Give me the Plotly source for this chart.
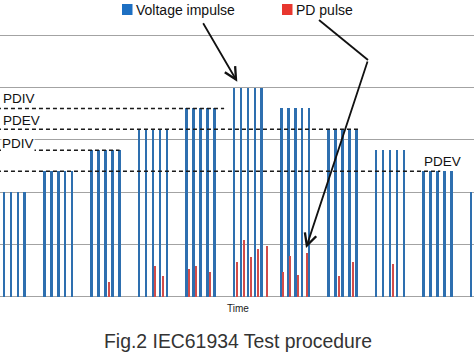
import plotly.graph_objects as go

W, H = 474, 355

# ---- data ----
# voltage impulse groups (5 impulses each) : start time and peak level
group_start = [0.0, 6.8, 13.6, 20.4, 27.2, 34.0, 40.8, 47.6, 54.4, 61.2, 68.0]
group_level = [2.0, 2.4, 2.8, 3.2, 3.6, 4.0, 3.6, 3.2, 2.8, 2.4, 2.0]
impulse_offsets = [0, 1, 2, 3, 4]

# PD pulses
pd_time = [16.08, 22.73, 23.83, 27.52, 28.52, 30.62, 34.45, 35.41, 36.46, 37.46,
           38.71, 41.09, 42.08, 43.17, 44.45, 49.04, 51.13, 56.87]
pd_amp = [0.29, 0.59, 0.40, 0.53, 0.59, 0.47, 0.67, 1.08, 0.75, 0.91,
          0.96, 0.47, 0.78, 0.41, 0.83, 0.39, 0.67, 0.62]

# reference (dashed) levels
ref_level = [3.6, 3.2, 2.8, 2.4]
ref_end = [32.6, 52.2, 17.6, 63.6]
ref_label = ["PDIV", "PDEV", "PDIV", "PDEV"]

legend_names = ["Voltage impulse", "PD pulse"]
grid_vals = [0, 1, 2, 3, 4, 5]
caption = "Fig.2 IEC61934 Test procedure"
x_title = "Time"

BLUE = "#2e6faf"
RED = "#d24c4a"
FONT = "Liberation Sans, Arial, sans-serif"

imp_x, imp_y = [], []
for s, lv in zip(group_start, group_level):
    for k in impulse_offsets:
        imp_x.append(s + k)
        imp_y.append(lv)

fig = go.Figure()
fig.add_trace(go.Bar(x=imp_x, y=imp_y, width=0.37, marker=dict(color=BLUE, line=dict(width=0)),
                     name=legend_names[0], showlegend=False))
fig.add_trace(go.Bar(x=pd_time, y=pd_amp, width=0.3, marker=dict(color=RED, line=dict(width=0)),
                     name=legend_names[1], showlegend=False))

PX_PER_T = 6.97
X0 = 0.445
Y0_PX, PX_PER_V = 296.7, 52.3

def px(x):
    return x / W

def py(y):
    return 1 - y / H

shapes = []
for lv, e in zip(ref_level, ref_end):
    shapes.append(dict(type="line", xref="x", yref="y", x0=-2, x1=e, y0=lv, y1=lv,
                       line=dict(color="#1a1a1a", width=1.5, dash="4px,3px"), layer="above"))
# legend squares
shapes.append(dict(type="rect", xref="paper", yref="paper", x0=px(122), x1=px(132.5),
                   y0=py(15), y1=py(4), fillcolor="#1d6fc2", line=dict(width=0)))
shapes.append(dict(type="rect", xref="paper", yref="paper", x0=px(282), x1=px(292.5),
                   y0=py(15), y1=py(4), fillcolor="#e8362e", line=dict(width=0)))
# first segment of the PD pulse pointer
shapes.append(dict(type="line", xref="paper", yref="paper", x0=px(319), y0=py(20), x1=px(368), y1=py(60),
                   line=dict(color="#111111", width=1.8)))

ann = []
ann.append(dict(xref="paper", yref="paper", x=px(133.5), y=py(10), xanchor="left", yanchor="middle",
                text=legend_names[0], showarrow=False, font=dict(family=FONT, size=14, color="#111")))
ann.append(dict(xref="paper", yref="paper", x=px(293.5), y=py(10), xanchor="left", yanchor="middle",
                text=legend_names[1], showarrow=False, font=dict(family=FONT, size=14, color="#111")))
# level labels
label_x = [1.5, 1.5, 0.5, 423]
label_shift = [9.6, 8.5, 6.9, 9.5]
label_bg = ["rgba(0,0,0,0)", "rgba(0,0,0,0)", "white", "rgba(0,0,0,0)"]
for lv, lab, lx, sh, bg in zip(ref_level, ref_label, label_x, label_shift, label_bg):
    ann.append(dict(xref="paper", yref="y", x=px(lx), y=lv, yshift=sh, xanchor="left", yanchor="middle",
                    text=lab, showarrow=False, bgcolor=bg, borderpad=0,
                    font=dict(family=FONT, size=13.5, color="#111")))
# arrows
ann.append(dict(xref="x", yref="y", x=34.49, y=4.11, ax=-35, ay=-60, text="", showarrow=True,
                arrowhead=5, arrowsize=1.3, arrowwidth=1.8, arrowcolor="#111111", standoff=0))
ann.append(dict(xref="x", yref="y", x=44.35, y=0.93, ax=62, ay=-188, text="", showarrow=True,
                arrowhead=5, arrowsize=1.3, arrowwidth=1.8, arrowcolor="#111111", standoff=0))
# axis title and caption
ann.append(dict(xref="paper", yref="paper", x=px(237.5), y=py(308), xanchor="center", yanchor="middle",
                text=x_title, showarrow=False, font=dict(family=FONT, size=10, color="#222")))
ann.append(dict(xref="paper", yref="paper", x=px(238), y=py(341), xanchor="center", yanchor="middle",
                text=caption, showarrow=False, font=dict(family=FONT, size=19.4, color="#333")))

fig.update_layout(
    width=W, height=H, margin=dict(l=0, r=0, t=0, b=0),
    paper_bgcolor="white", plot_bgcolor="white",
    barmode="overlay", bargap=0,
    xaxis=dict(range=[X0, X0 + W / PX_PER_T], showgrid=False, zeroline=False, showticklabels=False,
               ticks="", showline=False, fixedrange=True),
    yaxis=dict(range=[(Y0_PX - H) / PX_PER_V, Y0_PX / PX_PER_V], tickvals=grid_vals, showgrid=True,
               gridcolor="#a3a3a3", gridwidth=1.3, zeroline=False, showticklabels=False, ticks="",
               showline=False, fixedrange=True),
    shapes=shapes, annotations=ann, showlegend=False,
)

fig.write_html("out.html")
